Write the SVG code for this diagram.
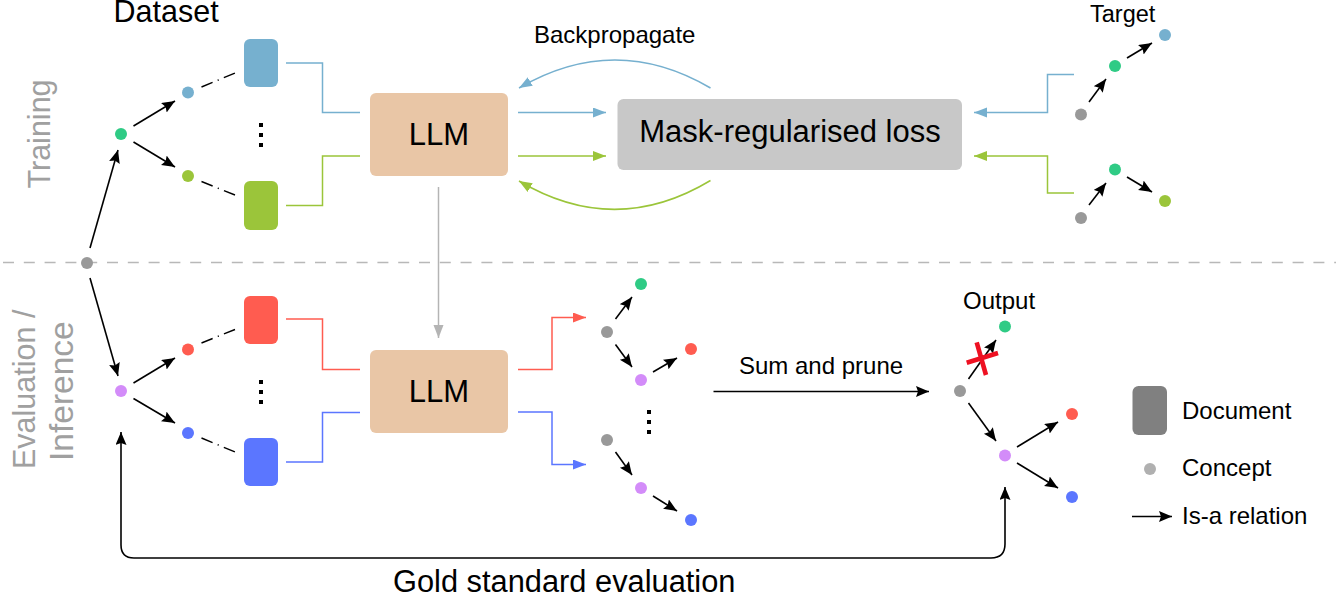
<svg xmlns="http://www.w3.org/2000/svg" width="1336" height="595" viewBox="0 0 1336 595">
<style>
text{font-family:"Liberation Sans",Arial,sans-serif;fill:#000}
.side{fill:#a0a0a0;font-size:30.500px}
.s24{font-size:24px}
.s31{font-size:31px}
.k{fill:none;stroke:#000;stroke-width:1.6;marker-end:url(#mk)}
.dd{fill:none;stroke:#000;stroke-width:1.4;stroke-dasharray:12 5.5 1.200 5.500 12}
.c{fill:none;stroke-width:1.5}
.dot{fill:#000}
.big{fill:none;stroke:#ee1122;stroke-width:4.600}
</style>
<defs>
<marker id="mk" markerUnits="userSpaceOnUse" markerWidth="14" markerHeight="12" refX="13" refY="5.5" orient="auto"><path d="M0 0L13 5.5L0 11L2 5.5z" fill="#000"/></marker>
<marker id="mb" markerUnits="userSpaceOnUse" markerWidth="14" markerHeight="12" refX="13" refY="5" orient="auto"><path d="M0 0L13 5L0 10z" fill="#76b0cf"/></marker>
<marker id="mo" markerUnits="userSpaceOnUse" markerWidth="14" markerHeight="12" refX="13" refY="5" orient="auto"><path d="M0 0L13 5L0 10z" fill="#9bc53a"/></marker>
<marker id="mr" markerUnits="userSpaceOnUse" markerWidth="14" markerHeight="12" refX="13" refY="5" orient="auto"><path d="M0 0L13 5L0 10z" fill="#ff5c50"/></marker>
<marker id="mv" markerUnits="userSpaceOnUse" markerWidth="14" markerHeight="12" refX="13" refY="5" orient="auto"><path d="M0 0L13 5L0 10z" fill="#5b76ff"/></marker>
<marker id="mg" markerUnits="userSpaceOnUse" markerWidth="14" markerHeight="12" refX="13" refY="5" orient="auto"><path d="M0 0L13 5L0 10z" fill="#b4b4b4"/></marker>
</defs>
<rect width="1336" height="595" fill="#fff"/>
<path d="M3 262.500H1336" fill="none" stroke="#b8b8b8" stroke-width="1.5" stroke-dasharray="11 9.800"/>
<g id="connectors">
<path class="k" d="M90 248L118 150"/>
<path class="k" d="M90 278L118 376"/>
<path class="k" d="M133.500 126L175 101"/>
<path class="k" d="M133.500 142L175 167"/>
<path class="k" d="M133.500 383L175 358"/>
<path class="k" d="M133.500 398.500L175 423"/>
<path class="dd" d="M201.500 87L235 73"/>
<path class="dd" d="M201.500 181.500L235 195"/>
<path class="dd" d="M201.500 343L235 329.500"/>
<path class="dd" d="M201.500 438L235 452"/>
<path class="c" stroke="#76b0cf" d="M286 63H322.500V112.500H360"/>
<path class="c" stroke="#9bc53a" d="M286 205.500H322.500V156H360"/>
<path class="c" stroke="#ff5c50" d="M286 319H322.500V369.500H360"/>
<path class="c" stroke="#5b76ff" d="M286 462H322.500V412.500H360"/>
<path class="c" stroke="#b4b4b4" marker-end="url(#mg)" d="M438.500 187V338"/>
<path class="c" stroke="#76b0cf" marker-end="url(#mb)" d="M518 112.500H606"/>
<path class="c" stroke="#9bc53a" marker-end="url(#mo)" d="M518 156H606"/>
<path class="c" stroke="#76b0cf" marker-end="url(#mb)" d="M710.500 88Q615 32 519 88"/>
<path class="c" stroke="#9bc53a" marker-end="url(#mo)" d="M710.500 180.500Q615 238 519 181"/>
<path class="c" stroke="#76b0cf" marker-end="url(#mb)" d="M1074 74.500H1047.500V112.500H974"/>
<path class="c" stroke="#9bc53a" marker-end="url(#mo)" d="M1074 193H1047.500V156H974"/>
<path class="c" stroke="#ff5c50" marker-end="url(#mr)" d="M518 369.500H552V317.500H586"/>
<path class="c" stroke="#5b76ff" marker-end="url(#mv)" d="M518 412H552V464.500H586"/>
<path class="k" d="M1089 102L1106 79"/>
<path class="k" d="M1127 58L1152 43"/>
<path class="k" d="M1089 205L1106 183"/>
<path class="k" d="M1127 177L1152 192"/>
<path class="k" d="M615.500 319L632 297"/>
<path class="k" d="M615.500 344.500L632 367"/>
<path class="k" d="M653 372L677 358"/>
<path class="k" d="M615.500 452L632 475"/>
<path class="k" d="M653 496L677 511"/>
<path class="k" d="M713.500 391.500H929"/>
<path class="k" d="M968.500 379L996 340"/>
<path class="k" d="M968.500 403L996 441"/>
<path class="k" d="M1017 447L1058 422"/>
<path class="k" d="M1017 463L1058 488"/>
<path class="k" d="M121 545V432"/>
<path class="k" d="M121 545Q121 558 134 558H991Q1005 558 1005 544V487"/>
<path class="k" d="M1132 516.500H1172"/>
<path class="big" d="M976.700 342.300L986 375M966.700 362.700L998 353"/>
</g>
<g id="doc-blue"><rect x="244" y="39" width="34" height="48" rx="6" fill="#76b0cf"/></g>
<g id="doc-olive"><rect x="244" y="181" width="34" height="49" rx="6" fill="#9bc53a"/></g>
<g id="doc-red"><rect x="244" y="296" width="34" height="48" rx="6" fill="#ff5c50"/></g>
<g id="doc-violet"><rect x="244" y="438" width="34" height="48" rx="6" fill="#5b76ff"/></g>
<g id="llm-train"><rect x="370" y="93" width="138" height="83" rx="6" fill="#e9c6a6"/><text class="s31" x="439" y="145" text-anchor="middle">LLM</text></g>
<g id="llm-eval"><rect x="370" y="350" width="138" height="83" rx="6" fill="#e9c6a6"/><text class="s31" x="439" y="402" text-anchor="middle">LLM</text></g>
<g id="loss"><rect x="617.500" y="99" width="344.500" height="71" rx="6" fill="#c8c8c8"/><text class="s31" x="790" y="142" text-anchor="middle">Mask-regularised loss</text></g>
<g id="concepts">
<circle cx="87" cy="263" r="6" fill="#999"/>
<circle cx="121" cy="134" r="6" fill="#2fcb85"/>
<circle cx="188" cy="92.500" r="6" fill="#76b0cf"/>
<circle cx="188" cy="176" r="6" fill="#9bc53a"/>
<circle cx="121" cy="391" r="6" fill="#d38cf9"/>
<circle cx="188" cy="349.500" r="6" fill="#ff5c50"/>
<circle cx="188" cy="433" r="6" fill="#5b76ff"/>
<circle cx="1081" cy="114.500" r="6" fill="#999"/>
<circle cx="1115" cy="66" r="6" fill="#2fcb85"/>
<circle cx="1165" cy="35" r="6" fill="#76b0cf"/>
<circle cx="1081" cy="218" r="6" fill="#999"/>
<circle cx="1115" cy="169.500" r="6" fill="#2fcb85"/>
<circle cx="1165" cy="201" r="6" fill="#9bc53a"/>
<circle cx="607" cy="332" r="6" fill="#999"/>
<circle cx="641" cy="284" r="6" fill="#2fcb85"/>
<circle cx="641" cy="380" r="6" fill="#d38cf9"/>
<circle cx="691" cy="349" r="6" fill="#ff5c50"/>
<circle cx="607" cy="440" r="6" fill="#999"/>
<circle cx="641" cy="488" r="6" fill="#d38cf9"/>
<circle cx="691" cy="520" r="6" fill="#5b76ff"/>
<circle cx="960" cy="391" r="6" fill="#999"/>
<circle cx="1005" cy="326.500" r="6" fill="#2fcb85"/>
<circle cx="1005" cy="455.500" r="6" fill="#d38cf9"/>
<circle cx="1072" cy="414" r="6" fill="#ff5c50"/>
<circle cx="1072" cy="497" r="6" fill="#5b76ff"/>
</g>
<g id="ellipses">
<rect class="dot" x="259" y="123" width="4" height="4"/><rect class="dot" x="259" y="133" width="4" height="4"/><rect class="dot" x="259" y="143" width="4" height="4"/>
<rect class="dot" x="259" y="380" width="4" height="4"/><rect class="dot" x="259" y="390" width="4" height="4"/><rect class="dot" x="259" y="400" width="4" height="4"/>
<rect class="dot" x="647" y="410" width="4" height="4"/><rect class="dot" x="647" y="420" width="4" height="4"/><rect class="dot" x="647" y="430" width="4" height="4"/>
</g>
<g id="labels">
<text x="113.500" y="22" style="font-size:30.500px">Dataset</text>
<text class="s24" x="534" y="43">Backpropagate</text>
<text x="1090" y="21.500" style="font-size:23.500px">Target</text>
<text class="s24" x="739" y="374">Sum and prune</text>
<text class="s24" x="963" y="309">Output</text>
<text x="393" y="592" style="font-size:30.800px">Gold standard evaluation</text>
<text class="side" transform="translate(50 188.500) rotate(-90)">Training</text>
<text class="side" transform="translate(35 469) rotate(-90)">Evaluation /</text>
<text class="side" transform="translate(73 461) rotate(-90)" style="font-size:33.500px">Inference</text>
</g>
<g id="legend">
<g id="legend-document"><rect x="1132.500" y="386" width="34.500" height="49" rx="6" fill="#808080"/><text class="s24" x="1182" y="419">Document</text></g>
<g id="legend-concept"><circle cx="1150" cy="469" r="6" fill="#b0b0b0"/><text class="s24" x="1182" y="476">Concept</text></g>
<g id="legend-relation"><text class="s24" x="1182" y="524">Is-a relation</text></g>
</g>
</svg>
